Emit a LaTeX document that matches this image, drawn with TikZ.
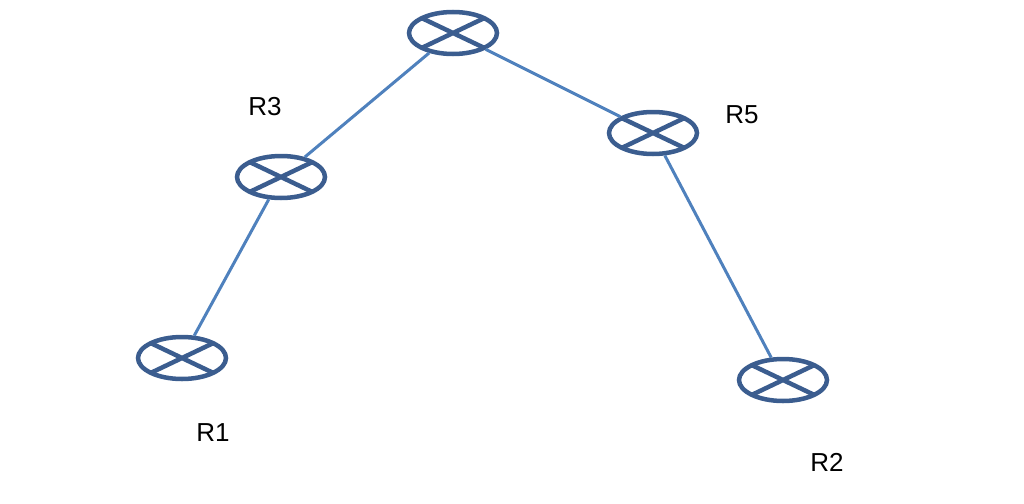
\documentclass[tikz,border=0pt]{standalone}
\usepackage{fontspec}
\setmainfont{Liberation Sans}
\usetikzlibrary{shapes.geometric}
\definecolor{rdark}{HTML}{3B5D8F}
\definecolor{rline}{HTML}{4F81BD}
\tikzset{
  router/.style={ellipse, draw=rdark, line width=4.5pt, minimum width=88pt, minimum height=42pt, inner sep=0pt,
    path picture={\draw[rdark, line width=4.5pt]
      (path picture bounding box.north west) -- (path picture bounding box.south east)
      (path picture bounding box.north east) -- (path picture bounding box.south west);}},
  link/.style={rline, line width=3pt},
  lbl/.style={font=\fontsize{26pt}{28pt}\selectfont, text=black}
}
\begin{document}
\begin{tikzpicture}[x=1pt,y=-1pt]
\useasboundingbox (0,0) rectangle (1024,503);
\node[router] (top) at (453,33) {};
\node[router] (r3) at (281,177) {};
\node[router] (r5) at (653,133) {};
\node[router] (r1) at (182,358) {};
\node[router] (r2) at (783,380) {};
\draw[link] (top) -- (r3);
\draw[link] (top) -- (r5);
\draw[link] (r3) -- (r1);
\draw[link] (r5) -- (r2);
\node[lbl] (l3) at (265,107) {R3};
\node[lbl] (l5) at (742,115) {R5};
\node[lbl] (l1) at (213,433) {R1};
\node[lbl] (l2) at (827,462) {R2};
\end{tikzpicture}
\end{document}
